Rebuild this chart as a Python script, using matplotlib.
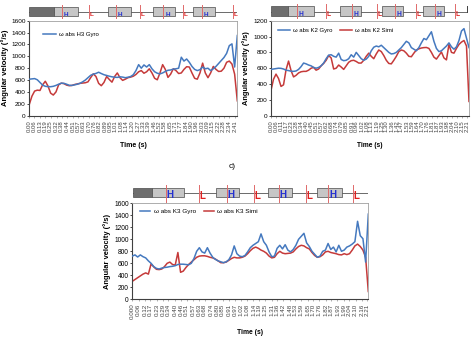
import numpy as np
import matplotlib
matplotlib.use("Agg")
import matplotlib.pyplot as plt
from matplotlib.patches import Rectangle

plt.rcParams['font.family'] = ['Liberation Sans', 'DejaVu Sans']

W, H = 474, 340
BLUE = '#4579bf'
RED = '#c53a3a'

# ---------------- H3 trial (top left) ----------------
h3_t_end = 2.44
h3_gyro = [615, 620, 625, 605, 560, 515, 495, 490, 488, 495,
           510, 530, 548, 545, 530, 512, 510, 520, 530, 545,
           570, 600, 640, 680, 700, 712, 732, 710, 690, 678,
           665, 655, 648, 645, 655, 650, 640, 648, 660, 690,
           760, 860, 800, 855, 820, 860, 790, 740, 715, 705,
           720, 745, 765, 770, 785, 790, 800, 985, 920, 955,
           900, 830, 780, 760, 775, 820, 790, 800, 760, 790,
           830, 880, 930, 980, 1050, 1180, 1210, 820, 1350]
h3_simi = [190, 330, 415, 430, 425, 520, 580, 500, 380, 348,
           400, 520, 548, 540, 515, 505, 510, 525, 535, 545,
           550, 555, 570, 640, 705, 660, 545, 505, 560, 660,
           610, 565, 660, 720, 640, 595, 615, 640, 650, 665,
           695, 740, 760, 715, 740, 790, 720, 630, 605, 720,
           860, 780, 645, 700, 790, 760, 710, 720, 780, 825,
           820, 720, 630, 615, 720, 885, 720, 640, 720, 830,
           780, 745, 750, 800, 900, 920, 870, 700, 250]
h3_labels = ['0.00', '0.06', '0.13', '0.19', '0.25', '0.32', '0.38', '0.44',
             '0.51', '0.57', '0.63', '0.70', '0.76', '0.82', '0.89', '0.95',
             '1.01', '1.08', '1.14', '1.20', '1.27', '1.33', '1.39', '1.46',
             '1.52', '1.58', '1.65', '1.71', '1.77', '1.84', '1.90', '1.96',
             '2.03', '2.09', '2.15', '2.22', '2.28', '2.34', '2.41']

# ---------------- K2 trial (top right) ----------------
k2_t_end = 2.23
k2_gyro = [585, 590, 595, 600, 598, 590, 575, 570, 562, 560,
           565, 585, 620, 665, 655, 640, 630, 610, 600, 610,
           630, 665, 720, 765, 770, 750, 740, 790, 710, 695,
           700, 720, 770, 740, 800, 760, 720, 700, 715, 750,
           820, 865, 880, 870, 890, 860, 830, 800, 780, 785,
           800, 830, 860, 900, 940, 920, 860, 840, 820, 860,
           920, 975, 960, 1010, 1060, 940, 850, 810, 820, 850,
           880, 920, 870, 840, 870, 950, 1070, 1100, 980, 860]
k2_simi = [320, 460, 525, 470, 370, 390, 580, 690, 570, 490,
           510, 540, 555, 560, 560, 575, 600, 610, 575, 590,
           630, 660, 700, 760, 730, 590, 600, 640, 615, 585,
           630, 675, 695, 700, 685, 665, 665, 700, 750, 790,
           750, 720, 780, 830, 810, 760, 700, 660, 655, 700,
           750, 810, 830, 820, 790, 750, 745, 790, 830, 845,
           855, 860, 862, 850, 800, 740, 715, 760, 805, 730,
           705, 900, 800, 790, 850, 900, 930, 950, 880, 180]
k2_labels = ['0.00', '0.06', '0.11', '0.17', '0.23', '0.28', '0.34', '0.40',
             '0.45', '0.51', '0.57', '0.62', '0.68', '0.74', '0.79', '0.85',
             '0.91', '0.96', '1.02', '1.08', '1.13', '1.19', '1.25', '1.30',
             '1.36', '1.42', '1.47', '1.53', '1.59', '1.64', '1.70', '1.76',
             '1.81', '1.87', '1.93', '1.98', '2.04', '2.10', '2.15', '2.21']

# ---------------- K3 trial (bottom) ----------------
k3_t_end = 2.22
k3_gyro = [720, 740, 705, 740, 710, 690, 640, 600, 545, 515,
           505, 520, 530, 535, 545, 550, 560, 580, 585, 585,
           580, 575, 600, 680, 800, 860, 790, 770, 860, 770,
           700, 665, 640, 625, 610, 625, 660, 740, 890, 760,
           720, 710, 730, 790, 860, 900, 930, 960, 1090, 960,
           900, 790, 710, 720, 850, 900, 840, 910, 820, 790,
           830, 900, 1000, 1050, 1100, 940, 880, 800, 750, 700,
           720, 800, 820, 930, 830, 870, 790, 900, 800, 820,
           870, 890, 920, 960, 1300, 1060, 1010, 620, 1420]
k3_simi = [300, 330, 360, 390, 420, 440, 420, 590, 540, 500,
           495, 505, 545, 600, 620, 580, 570, 780, 450, 470,
           530, 580, 620, 660, 700, 720, 725, 725, 715, 700,
           690, 670, 640, 610, 610, 620, 650, 680, 700, 690,
           690, 700, 720, 760, 810, 850, 870, 850, 820, 800,
           770, 720, 690, 700, 760, 800, 770, 760, 765, 770,
           790, 840, 880, 900, 890, 860, 840, 780, 730, 700,
           710, 740, 790, 800, 780, 770, 760, 745, 740, 760,
           745, 760, 820, 890, 920, 880, 820, 700, 130]
k3_labels = ['0.000', '0.06', '0.12', '0.17', '0.23', '0.29', '0.34', '0.40',
             '0.46', '0.51', '0.57', '0.63', '0.68', '0.74', '0.80', '0.85',
             '0.91', '0.97', '1.02', '1.08', '1.14', '1.19', '1.25', '1.31',
             '1.36', '1.42', '1.48', '1.53', '1.59', '1.65', '1.70', '1.76',
             '1.82', '1.87', '1.93', '1.99', '2.04', '2.10', '2.16', '2.21']

# ---------------- phase strips (fractions of the time axis) ----------------
h3_phase = dict(dark=(0.0, 0.119),
                boxes=[(0.119, 0.233), (0.380, 0.4875), (0.593, 0.700), (0.786, 0.893)],
                h=[0.156, 0.416, 0.644, 0.829], l=[0.288, 0.532, 0.7375, 0.980], end=1.0)
k2_phase = dict(dark=(0.0, 0.086),
                boxes=[(0.086, 0.217), (0.348, 0.453), (0.559, 0.668), (0.770, 0.874)],
                h=[0.133, 0.407, 0.626, 0.828], l=[0.278, 0.534, 0.732, 0.929], end=0.988)
k3_phase = dict(dark=(0.004, 0.082),
                boxes=[(0.082, 0.220), (0.353, 0.452), (0.576, 0.678), (0.784, 0.887)],
                h=[0.143, 0.400, 0.623, 0.831], l=[0.284, 0.517, 0.736, 0.937], end=0.997)

fig = plt.figure(figsize=(W / 100, H / 100), dpi=100)


def rect(l, t, r, b):
    return [l / W, 1 - b / H, (r - l) / W, (b - t) / H]


def panel(box, t_end, gyro, simi, labels, ymax, legend_names, leg_anchor,
          xfs, yfs, lfs, legfs, handlelen, xpad):
    ax = fig.add_axes(rect(*box))
    tg = np.linspace(0, t_end, len(gyro))
    ts = np.linspace(0, t_end, len(simi))
    lg, = ax.plot(tg, gyro, color=BLUE, lw=1.1, zorder=3)
    ls, = ax.plot(ts, simi, color=RED, lw=1.1, zorder=2)
    ax.set_xlim(0, t_end)
    ax.set_ylim(0, ymax)
    ax.set_yticks(np.arange(0, ymax + 1, 200))
    ax.set_xticks([float(s) for s in labels])
    ax.set_xticklabels(labels, rotation=90, fontsize=xfs, color='#444444')
    ax.tick_params(axis='y', labelsize=yfs, length=1.5, width=0.5, pad=1)
    ax.tick_params(axis='x', length=1.2, width=0.4, pad=2, color='#777777')
    for s in ('left', 'bottom'):
        ax.spines[s].set_color('#404040')
        ax.spines[s].set_linewidth(0.8)
    for s in ('top', 'right'):
        ax.spines[s].set_color('#a0a0a0')
        ax.spines[s].set_linewidth(0.6)
    ax.set_ylabel('Angular velocity (°/s)', fontsize=lfs, fontweight='bold', labelpad=2)
    ax.set_xlabel('Time (s)', fontsize=lfs - 0.5, fontweight='bold', labelpad=xpad)
    handles = [lg, ls][:len(legend_names)]
    ax.legend(handles, legend_names, loc='center left', bbox_to_anchor=leg_anchor,
              frameon=False, fontsize=legfs, ncol=len(legend_names),
              borderpad=0, borderaxespad=0, handlelength=handlelen,
              handletextpad=0.5, columnspacing=1.3)
    return ax


def strip(l, r, top, bottom, phase, box_y, line_y, red_y, txt_y, fs, h_off, l_off):
    ax = fig.add_axes(rect(l, top, r, bottom))
    ax.set_xlim(0, 1)
    ax.set_ylim(bottom, top)
    ax.axis('off')
    d0, d1 = phase['dark']
    end = phase['end']
    ax.plot([d0, end], [line_y, line_y], color='#6a6a6a', lw=0.7, zorder=1)
    ax.plot([end, end], [box_y[0], line_y], color='#404040', lw=0.7, zorder=1)
    ax.add_patch(Rectangle((d0, box_y[0]), d1 - d0, box_y[1] - box_y[0],
                           fc='#6e6e6e', ec='#4a4a4a', lw=0.5, zorder=2))
    for a, b in phase['boxes']:
        ax.add_patch(Rectangle((a, box_y[0]), b - a, box_y[1] - box_y[0],
                               fc='#c6c6c6', ec='#4a4a4a', lw=0.5, zorder=2))
    for x in phase['h']:
        ax.plot([x, x], red_y, color='#e06a6a', lw=0.7, zorder=3)
        ax.text(x + h_off, txt_y, 'H', color='#2430d0', fontsize=fs,
                fontweight='bold', ha='center', va='center', zorder=4)
    for x in phase['l']:
        ax.plot([x, x], red_y, color='#e06a6a', lw=0.7, zorder=3)
        ax.text(x + l_off, txt_y + 0.8, 'L', color='#e02020', fontsize=fs,
                fontweight='bold', ha='center', va='center', zorder=4)
    return ax


# top left: H3
panel((29.3, 20.7, 237.3, 115.7), h3_t_end, h3_gyro, h3_simi, h3_labels, 1600,
      ['ω abs H3 Gyro'], (0.066, 0.857), 4.3, 4.6, 5.5, 4.3, 2.1, 7)
strip(29.3, 237.3, 2, 20.7, h3_phase, (7.3, 16.0), 12.0, (5.0, 18.5), 14.0, 4.6, 0.02, 0.013)

# top right: K2
panel((271, 20.7, 469, 115.7), k2_t_end, k2_gyro, k2_simi, k2_labels, 1200,
      ['ω abs K2 Gyro', 'ω abs K2 Simi'], (0.035, 0.899), 4.3, 4.6, 5.3, 4.3, 2.0, 7)
strip(271, 469, 2, 20.7, k2_phase, (6.0, 15.7), 12.3, (4.5, 18.0), 14.0, 4.8, 0.02, 0.013)

# bottom: K3
panel((132.3, 203.3, 368.3, 299.3), k3_t_end, k3_gyro, k3_simi, k3_labels, 1600,
      ['ω abs K3 Gyro', 'ω abs K3 Simi'], (0.033, 0.9125), 4.5, 4.8, 5.4, 4.6, 1.6, 7)
strip(132.3, 368.3, 183, 203.3, k3_phase, (188.3, 197.3), 193.3, (185.0, 203.0), 195.0, 7.0, 0.017, 0.013)

fig.text(232 / W, 1 - 167 / H, 'c)', fontsize=6, ha='center', va='center')

fig.savefig('out.png', dpi=100)
